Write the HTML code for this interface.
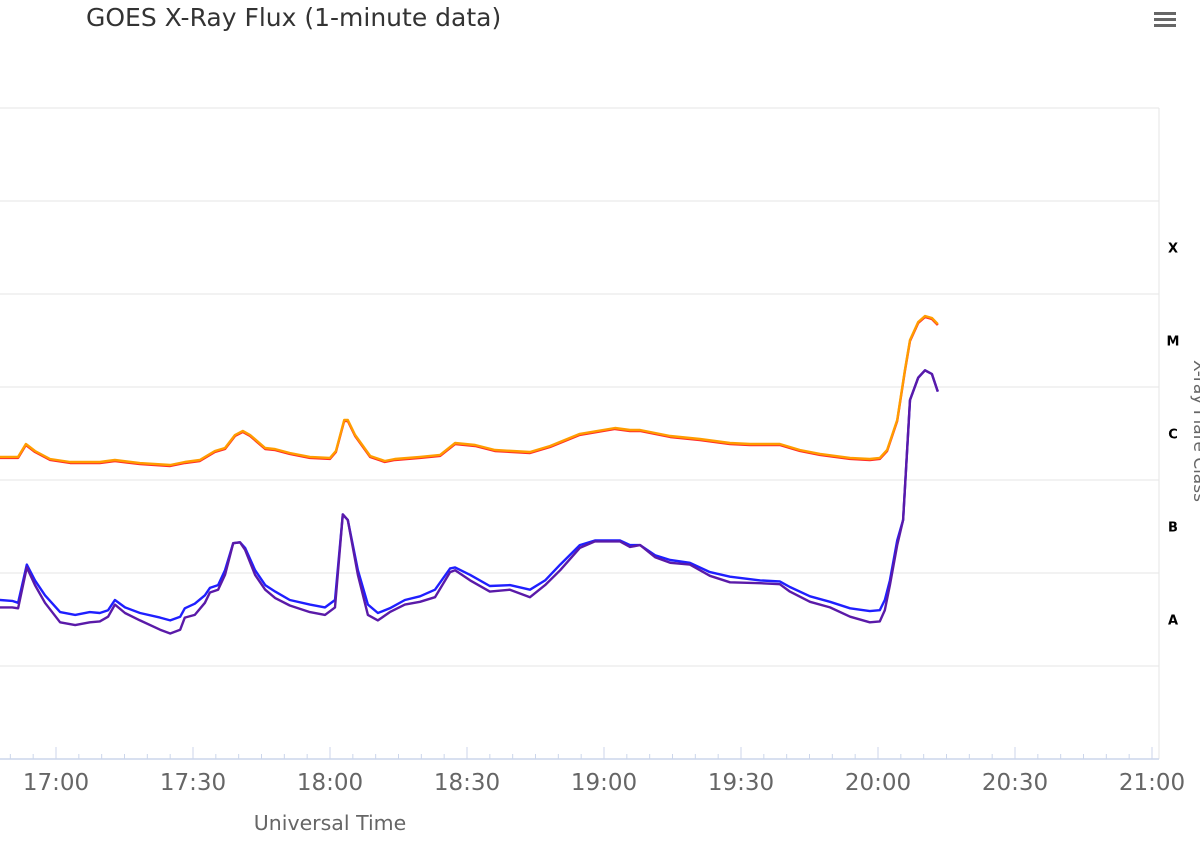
<!DOCTYPE html>
<html><head><meta charset="utf-8"><style>
body{margin:0;background:#fff;}
svg{display:block;font-family:"DejaVu Sans","Liberation Sans",sans-serif;}
</style></head><body>
<svg id="chart" width="1200" height="847">
<text x="86" y="26" font-size="25" fill="#333">GOES X-Ray Flux (1-minute data)</text>
<g>
<rect x="1154" y="12" width="22" height="3" fill="#666"/><rect x="1154" y="18" width="22" height="3" fill="#666"/><rect x="1154" y="24" width="22" height="3" fill="#666"/>
</g>
<g id="grid"></g><g id="axes"></g><g id="series"></g>
<text x="1194" y="360" font-size="17" fill="#666" transform="rotate(90 1194 360)">X-ray Flare Class</text>
<text x="330" y="830" font-size="20.5" fill="#666" text-anchor="middle">Universal Time</text>
</svg>
<script>
// minutes relative to 17:00 UT
const longTimes=[-12.3,-8.3,-6.6,-4.6,-1.3,3.1,9.6,12.9,18.4,25,28.2,31.5,34.8,37,39.2,40.9,42.5,45.8,48,51.2,55.6,60,61.3,63.1,63.9,65.5,68.8,72,74.2,79.7,84.1,87.4,91.8,96.1,103.8,108.2,114.7,122.4,125.7,127.9,134.5,141,147.6,152,158.5,162.9,167.3,173.9,178.2,180.4,182,184.2,185.9,187,188.8,190.3,191.8,193.1];
const longFlux=[1.77e-6,1.77e-6,2.44e-6,2.05e-6,1.68e-6,1.56e-6,1.56e-6,1.64e-6,1.52e-6,1.45e-6,1.56e-6,1.64e-6,2.05e-6,2.21e-6,3.05e-6,3.37e-6,3.05e-6,2.21e-6,2.15e-6,1.95e-6,1.77e-6,1.73e-6,2.05e-6,4.42e-6,4.42e-6,3.05e-6,1.81e-6,1.60e-6,1.68e-6,1.77e-6,1.86e-6,2.50e-6,2.38e-6,2.10e-6,2.00e-6,2.32e-6,3.13e-6,3.62e-6,3.45e-6,3.45e-6,2.97e-6,2.76e-6,2.50e-6,2.44e-6,2.44e-6,2.10e-6,1.91e-6,1.73e-6,1.68e-6,1.73e-6,2.10e-6,4.42e-6,1.52e-5,3.20e-5,5.00e-5,5.80e-5,5.52e-5,4.75e-5];
const shortTimes=[-12.3,-9.6,-8.3,-6.4,-4.6,-2.4,0.9,4.2,7.4,9.6,11.4,12.9,15.1,18.4,22.8,25.0,27.2,28.2,30.4,32.6,33.7,35.5,37.0,38.8,40.3,41.4,43.6,45.8,48.0,51.2,55.6,58.9,61.1,62.8,63.9,66.1,68.3,70.5,73.1,76.4,79.7,83.0,86.3,87.4,90.7,95.0,99.4,103.8,107.1,110.4,114.7,118.0,123.5,125.7,127.9,131.2,134.5,138.8,143.2,147.6,154.2,158.5,160.7,165.1,169.5,173.9,178.2,180.4,181.5,182.6,184.2,185.5,187.0,188.8,190.3,191.8,193.1];
// log10 flux (W/m^2)
const shortBlueLog=[-7.29,-7.30,-7.32,-6.91,-7.08,-7.24,-7.42,-7.45,-7.42,-7.43,-7.40,-7.29,-7.37,-7.43,-7.48,-7.51,-7.47,-7.38,-7.33,-7.24,-7.16,-7.13,-6.97,-6.68,-6.67,-6.73,-6.97,-7.13,-7.20,-7.29,-7.34,-7.37,-7.29,-6.37,-6.43,-6.97,-7.34,-7.43,-7.38,-7.29,-7.25,-7.18,-6.95,-6.94,-7.02,-7.14,-7.13,-7.18,-7.08,-6.91,-6.70,-6.65,-6.65,-6.70,-6.70,-6.81,-6.86,-6.89,-6.99,-7.04,-7.08,-7.09,-7.15,-7.25,-7.31,-7.38,-7.41,-7.40,-7.29,-7.08,-6.65,-6.43,-5.14,-4.90,-4.82,-4.86,-5.05];
const shortPurpleLog=[-7.37,-7.37,-7.38,-6.94,-7.13,-7.32,-7.53,-7.56,-7.53,-7.52,-7.47,-7.34,-7.43,-7.51,-7.61,-7.65,-7.61,-7.48,-7.45,-7.32,-7.21,-7.18,-7.02,-6.68,-6.67,-6.75,-7.02,-7.18,-7.27,-7.35,-7.42,-7.45,-7.37,-6.37,-6.43,-7.02,-7.45,-7.51,-7.42,-7.34,-7.31,-7.26,-6.99,-6.97,-7.08,-7.20,-7.18,-7.26,-7.13,-6.97,-6.73,-6.66,-6.66,-6.72,-6.70,-6.83,-6.89,-6.91,-7.03,-7.10,-7.11,-7.12,-7.20,-7.31,-7.37,-7.47,-7.53,-7.52,-7.40,-7.13,-6.70,-6.43,-5.14,-4.90,-4.82,-4.86,-5.05];
const xTickLabels=["17:00","17:30","18:00","18:30","19:00","19:30","20:00","20:30","21:00"];
const classLabels=["X","M","C","B","A"];

const NS="http://www.w3.org/2000/svg";
const X0=56, PXMIN=137/30, TOP=108, DEC=93, AXY=759, RIGHT=1159;
const xs=m=>X0+m*PXMIN;
const ys=l=>TOP+(-2-l)*DEC;
function mk(tag,attrs,parent){const e=document.createElementNS(NS,tag);for(const k in attrs)e.setAttribute(k,attrs[k]);parent.appendChild(e);return e;}
const grid=document.getElementById('grid'),axes=document.getElementById('axes'),ser=document.getElementById('series');
for(let d=-2;d>=-8;d--){const l=mk('line',{x1:0,x2:RIGHT,y1:ys(d),y2:ys(d),stroke:'#e6e6e6','stroke-width':1},grid);

}
const vl=mk('line',{x1:RIGHT,x2:RIGHT,y1:TOP,y2:AXY,stroke:'#e6e6e6'},grid);


const ax=mk('line',{x1:0,x2:RIGHT,y1:AXY,y2:AXY,stroke:'#ccd6eb','stroke-width':1.5},axes);


for(let m=-10;m<=245;m+=5){const x=xs(m);if(x<0||x>RIGHT)continue;const major=m%30===0;
const t=mk('line',{x1:x,x2:x,y1:AXY,y2:AXY-(major?12:5),stroke:'#ccd6eb'},axes);

}
xTickLabels.forEach((s,i)=>{const t=mk('text',{x:xs(i*30),y:790,'font-size':23,fill:'#666','text-anchor':'middle'},axes);t.textContent=s;

});
classLabels.forEach((s,i)=>{const t=mk('text',{x:1173,y:ys(-3.5-i)+5,'font-size':13,'font-weight':'bold',fill:'#000','text-anchor':'middle'},axes);t.textContent=s;

});
function path(times,logs,color,name,dy){let d='';times.forEach((m,i)=>{d+=(i?'L':'M')+xs(m).toFixed(1)+','+(ys(logs[i])+dy).toFixed(1);});
const p=mk('path',{d:d,fill:'none',stroke:color,'stroke-width':2.4,'stroke-linejoin':'round'},ser);

}
const longLog=longFlux.map(v=>Math.log10(v));
path(longTimes,longLog,'#ff2a2a','long-channel-red-line',1);
path(longTimes,longLog,'#ff9d00','long-channel-orange-line',0);
path(shortTimes,shortBlueLog,'#1f1fff','short-channel-blue-line',0);
path(shortTimes,shortPurpleLog,'#5a1aa8','short-channel-purple-line',0);
</script>
</body></html>
